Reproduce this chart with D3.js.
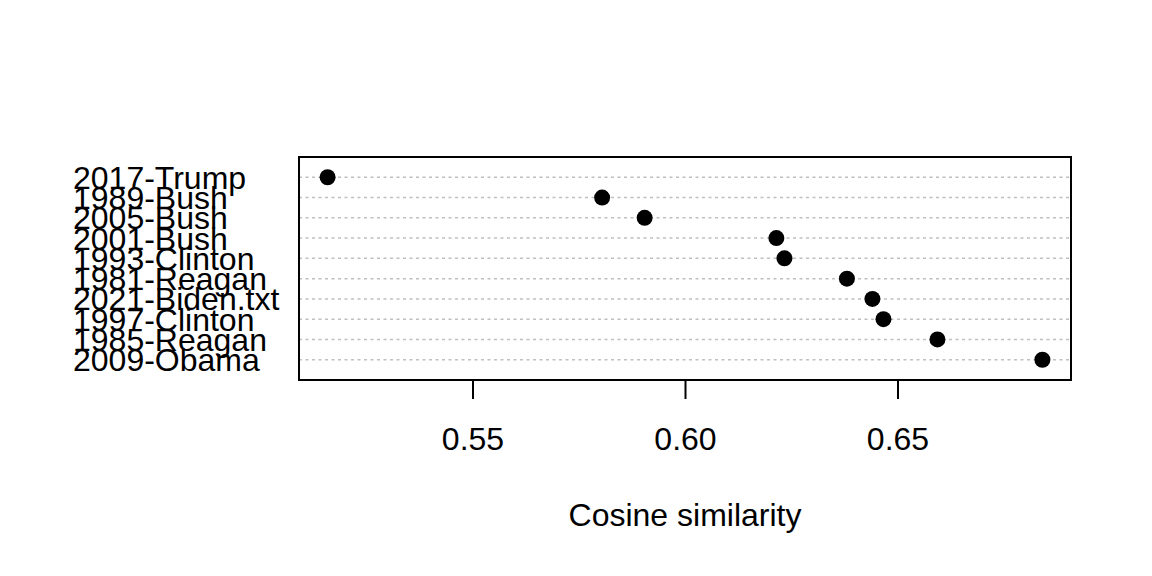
<!DOCTYPE html>
<html>
<head>
<meta charset="utf-8">
<script src="https://cdn.jsdelivr.net/npm/d3@7"></script>
<style>
  html, body { margin: 0; padding: 0; background: #fff; }
  text { font-family: "Liberation Sans", Arial, Helvetica, sans-serif; fill: #000; }
</style>
</head>
<body>
<svg id="chart" width="1152" height="576"></svg>
<script>
// Data (top to bottom as displayed)
const labels = ["2017-Trump", "1989-Bush", "2005-Bush", "2001-Bush", "1993-Clinton",
                "1981-Reagan", "2021-Biden.txt", "1997-Clinton", "1985-Reagan", "2009-Obama"];
const values = [0.5159, 0.5805, 0.5905, 0.6215, 0.6234, 0.6381, 0.6441, 0.6467, 0.6594, 0.6841];
const xTicks = [0.55, 0.60, 0.65];
const xTickLabels = ["0.55", "0.60", "0.65"];
const xTitle = "Cosine similarity";

const svg = d3.select("#chart");
const pL = 299, pR = 1071, pT = 157, pB = 380;
const fs = 32;

const vmin = d3.min(values), vmax = d3.max(values);
const pad = (vmax - vmin) * 0.04;
const x = d3.scaleLinear().domain([vmin - pad, vmax + pad]).range([pL, pR]);
const n = labels.length;
// row index: top row = n, bottom = 1 ; ylim [0, n+1]
const y = d3.scaleLinear().domain([0, n + 1]).range([pB, pT]);

// dotted guide lines
svg.append("g").selectAll("line").data(labels).join("line")
  .attr("x1", pL).attr("x2", pR)
  .attr("y1", (d, i) => y(n - i)).attr("y2", (d, i) => y(n - i))
  .attr("stroke", "#c0c0c0").attr("stroke-width", 1.5)
  .attr("stroke-dasharray", "3,3.5");

// points
svg.append("g").selectAll("circle").data(values).join("circle")
  .attr("cx", d => x(d)).attr("cy", (d, i) => y(n - i))
  .attr("r", 8).attr("fill", "#000");

// labels
svg.append("g").selectAll("text").data(labels).join("text")
  .attr("x", 73).attr("y", (d, i) => y(n - i) + 11.5)
  .attr("font-size", fs).attr("text-anchor", "start")
  .text(d => d);

// box
svg.append("rect").attr("x", pL).attr("y", pT)
  .attr("width", pR - pL).attr("height", pB - pT)
  .attr("fill", "none").attr("stroke", "#000").attr("stroke-width", 2);

// x axis
const axis = d3.axisBottom(x).tickValues(xTicks)
  .tickFormat((d, i) => xTickLabels[i]).tickSize(19).tickPadding(0);
const g = svg.append("g").attr("transform", `translate(0,${pB})`).call(axis);
g.select(".domain").remove();
g.selectAll(".tick line").attr("stroke", "#000").attr("stroke-width", 2);
g.selectAll(".tick text").attr("font-size", fs).attr("dy", null)
  .attr("y", 70).attr("fill", "#000")
  .style("font-family", '"Liberation Sans", Arial, Helvetica, sans-serif');

// x title
svg.append("text").attr("x", (pL + pR) / 2).attr("y", 526)
  .attr("text-anchor", "middle").attr("font-size", fs).text(xTitle);
</script>
</body>
</html>
